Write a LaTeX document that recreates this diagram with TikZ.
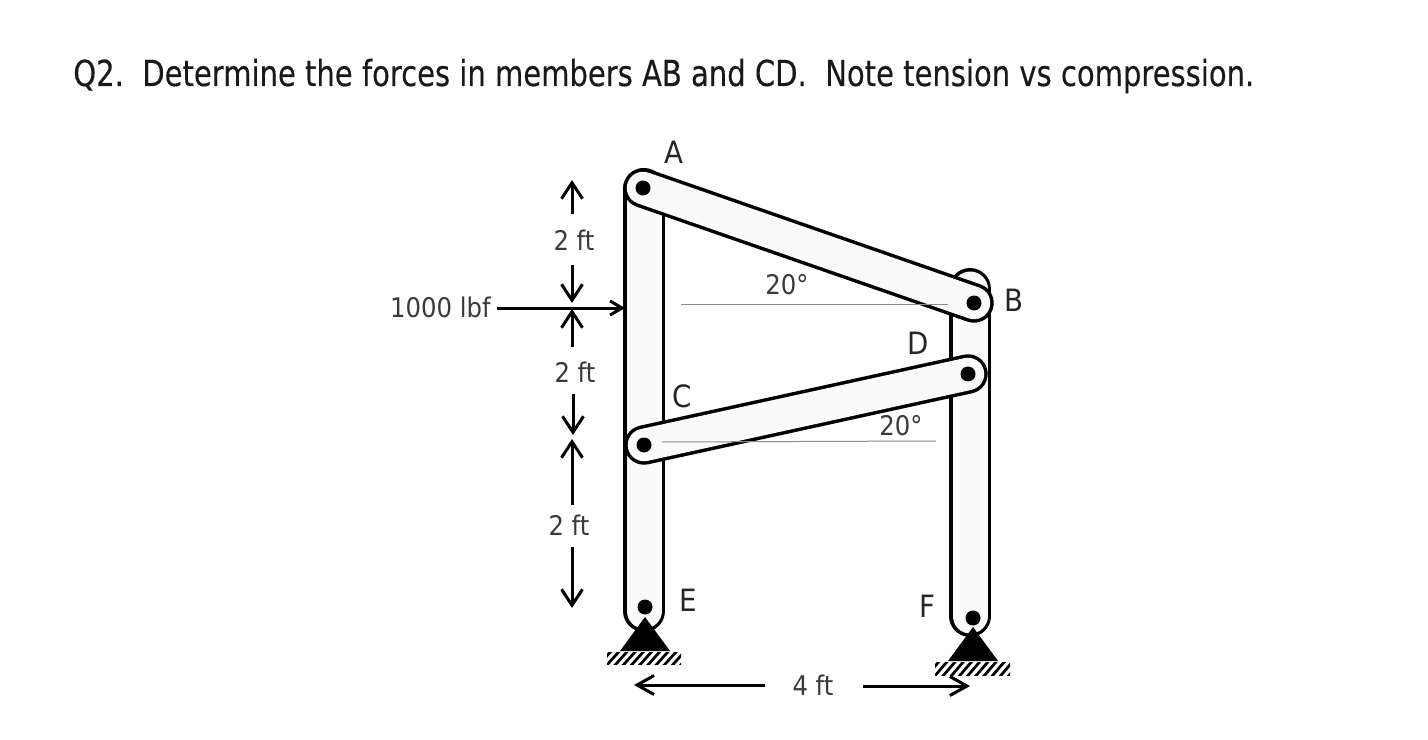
\documentclass[tikz,border=0pt]{standalone}
\usepackage{fontspec}
\setmainfont[FakeStretch=0.9]{DejaVu Sans}
\newfontfamily\titlefont[FakeStretch=0.81,FakeBold=0.25]{DejaVu Sans}
\usetikzlibrary{arrows.meta}
\definecolor{barfill}{HTML}{FAFAFA}
\definecolor{dimtext}{HTML}{3A3A3A}
\tikzset{
  x=0.02cm,y=-0.02cm,
  bar/.style={line cap=round,draw=black,line width=0.07cm,double=barfill,double distance=#1},
  bar/.default=0.70cm,
  pin/.style={circle,fill=black,inner sep=0pt,minimum size=0.3cm},
  dimarrow/.style={line width=0.06cm,-{Straight Barb[length=0.32cm,width=0.42cm,line width=0.06cm]}},
  wide/.style={line width=0.06cm,-{Straight Barb[length=0.34cm,width=0.38cm,line width=0.06cm]}},
  force/.style={line width=0.06cm,-{Straight Barb[length=0.24cm,width=0.28cm,line width=0.06cm]}},
  thin grey/.style={draw=black!45,line width=0.02cm},
  letter/.style={font=\fontsize{17.5}{20}\selectfont,text=black!85,inner sep=0pt},
  dimlabel/.style={font=\fontsize{15.4}{18}\selectfont,text=dimtext,inner sep=0pt},
  support/.style={fill=black},
  hatchline/.style={line width=0.055cm},
}
\begin{document}
\begin{tikzpicture}
\useasboundingbox (0,0) rectangle (1428,740);
\node[anchor=base west,inner sep=0pt,font=\titlefont\fontsize{20.4}{24}\selectfont,text=black!90] (title) at (73,86) {Q2.\ \ Determine the forces in members AB and CD.\ \ Note tension vs compression.};
% joints
\coordinate (EE) at (644,611);
\coordinate (AC) at (644,189);
\coordinate (FF) at (970,616);
\coordinate (BC) at (970,289);
\coordinate (Ap) at (643,188);
\coordinate (Bp) at (974,303);
\coordinate (Cp) at (644,445);
\coordinate (Dp) at (968,374);
% columns
\draw[bar] (AC) -- (EE);
\draw[bar] (BC) -- (FF);
% supports
\coordinate (E1) at (645,617);\coordinate (E2) at (670,651);\coordinate (E3) at (620,651);
\coordinate (F1) at (973,627);\coordinate (F2) at (998,661);\coordinate (F3) at (948,661);
\fill[support] (E1) -- (E2) -- (E3) -- cycle;
\fill[support] (F1) -- (F2) -- (F3) -- cycle;
\begin{scope}
\clip (607,652) rectangle (681,664);
\foreach \i in {0,...,10}{\draw[hatchline] (596+8.2*\i,668) -- (614+8.2*\i,648);}
\end{scope}
\begin{scope}
\clip (935,662) rectangle (1010,675);
\foreach \i in {0,...,10}{\draw[hatchline] (924+8.2*\i,679) -- (942+8.2*\i,658);}
\end{scope}
% links
\draw[bar=0.65cm] (Ap) -- (Bp);
\draw[bar=0.65cm] (Cp) -- (Dp);
% angle reference lines
\coordinate (g1) at (681,304);\coordinate (g2) at (948,304);
\coordinate (g3) at (662,442);\coordinate (g4) at (936,441);
\draw[thin grey] (g1) -- (g2);
\draw[thin grey] (g3) -- (g4);
% pins
\node[pin] (pA) at (Ap) {};
\node[pin] (pB) at (Bp) {};
\node[pin] (pC) at (Cp) {};
\node[pin] (pD) at (Dp) {};
\node[pin] (pE) at (645,607) {};
\node[pin] (pF) at (973,618) {};
% letters
\node[letter] (lA) at (674,152) {A};
\node[letter] (lB) at (1014,300) {B};
\node[letter] (lC) at (682,396) {C};
\node[letter] (lD) at (918,343) {D};
\node[letter] (lE) at (688,600) {E};
\node[letter] (lF) at (927,606) {F};
\node[dimlabel] (a1) at (787,285) {20°};
\node[dimlabel] (a2) at (901,426) {20°};
% dimension labels
\node[dimlabel] (d1) at (574,240) {2 ft};
\node[dimlabel] (d2) at (575,372) {2 ft};
\node[dimlabel] (d3) at (569,525) {2 ft};
\node[dimlabel] (d4) at (813,685) {4 ft};
\node[dimlabel,anchor=east] (load) at (491,307) {1000 lbf};
% dimension arrows
\coordinate (t1) at (572,180);\coordinate (t2) at (572,303);
\coordinate (t3) at (572,309);\coordinate (t4) at (573,435);
\coordinate (t5) at (572,439);\coordinate (t6) at (572,608);
\draw[dimarrow] (572,214) -- (t1);
\draw[dimarrow] (572,265) -- (t2);
\draw[dimarrow] (572,347) -- (t3);
\draw[dimarrow] (573,394) -- (t4);
\draw[dimarrow] (572,505) -- (t5);
\draw[dimarrow] (572,547) -- (t6);
% force arrow
\coordinate (ft) at (625,308);
\draw[force] (load.east |- ft) ++(6,0) -- (ft);
% 4 ft
\coordinate (w1) at (634,685);\coordinate (w2) at (970,686);
\draw[wide] (765,685) -- (w1);
\draw[wide] (863,686) -- (w2);
\end{tikzpicture}
\end{document}
